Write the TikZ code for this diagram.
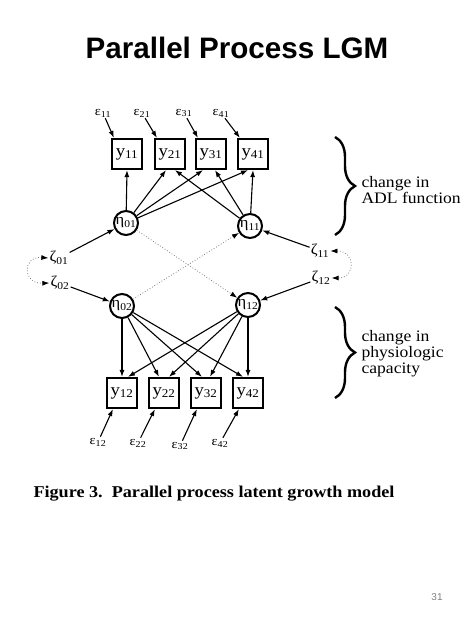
\documentclass[tikz,border=0pt]{standalone}
\usepackage{fontspec}
\setmainfont{Liberation Serif}[FakeStretch=1.1]
\setsansfont{Liberation Sans}
\usetikzlibrary{arrows.meta,decorations.pathreplacing}
\begin{document}
\begin{tikzpicture}[x=1pt,y=-1pt,
	obs/.style={draw,line width=2.2pt,minimum size=30pt,inner sep=0pt,font=\fontsize{17}{17}\selectfont},
	lat/.style={draw,circle,line width=2pt,minimum size=24pt,inner sep=0pt,font=\fontsize{15}{15}\selectfont},
	err/.style={inner sep=1pt,font=\fontsize{13}{13}\selectfont},
	dis/.style={inner sep=1pt,font=\fontsize{15}{15}\selectfont},
	arr/.style={-{Latex[length=7pt,width=5pt]},line width=1.1pt},
	dots/.style={dotted,gray,line width=0.8pt,-{Latex[length=7pt,width=5pt,black]}},
	brc/.style={decorate,decoration={brace,amplitude=20pt},line width=2.4pt},
	note/.style={anchor=west,align=left,font=\fontsize{16}{16}\selectfont}]
	\useasboundingbox (0,0) rectangle (474,622);
	%标题
	\node[anchor=base,font=\sffamily\bfseries\fontsize{29.6}{30}\selectfont] (title) at (237,58) {Parallel Process LGM};
	%观测变量
	\node[obs] (y11) at (127,154) {y\textsubscript{11}};
	\node[obs] (y21) at (170,154) {y\textsubscript{21}};
	\node[obs] (y31) at (211,154) {y\textsubscript{31}};
	\node[obs] (y41) at (253,154) {y\textsubscript{41}};
	\node[obs] (y12) at (122,393) {y\textsubscript{12}};
	\node[obs] (y22) at (164,393) {y\textsubscript{22}};
	\node[obs] (y32) at (206,393) {y\textsubscript{32}};
	\node[obs] (y42) at (248,393) {y\textsubscript{42}};
	%潜变量
	\node[lat] (e01) at (126,223) {η\textsubscript{01}};
	\node[lat] (e11) at (250,226) {η\textsubscript{11}};
	\node[lat] (e02) at (122,306) {η\textsubscript{02}};
	\node[lat] (e12) at (248,305) {η\textsubscript{12}};
	%误差
	\node[err] (d11) at (103,113) {ε\textsubscript{11}};
	\node[err] (d21) at (142,113) {ε\textsubscript{21}};
	\node[err] (d31) at (184,113) {ε\textsubscript{31}};
	\node[err] (d41) at (221,113) {ε\textsubscript{41}};
	\node[err] (d12) at (98,442) {ε\textsubscript{12}};
	\node[err] (d22) at (138,443) {ε\textsubscript{22}};
	\node[err] (d32) at (180,446) {ε\textsubscript{32}};
	\node[err] (d42) at (220,443) {ε\textsubscript{42}};
	\node[dis] (z01) at (59,258) {ζ\textsubscript{01}};
	\node[dis] (z02) at (60,283) {ζ\textsubscript{02}};
	\node[dis] (z11) at (320,251) {ζ\textsubscript{11}};
	\node[dis] (z12) at (321,278) {ζ\textsubscript{12}};
	%箭头
	\draw[arr] (d11) -- ([xshift=3pt]y11.north west);
	\draw[arr] (d21) -- ([xshift=3pt]y21.north west);
	\draw[arr] (d31) -- ([xshift=3pt]y31.north west);
	\draw[arr] (d41) -- ([xshift=3pt]y41.north west);
	\draw[arr] (d12) -- ([xshift=7pt]y12.south west);
	\draw[arr] (d22) -- ([xshift=7pt]y22.south west);
	\draw[arr] (d32) -- ([xshift=7pt]y32.south west);
	\draw[arr] (d42) -- ([xshift=7pt]y42.south west);
	\draw[arr] (e01) -- (y11.south);
	\draw[arr] (e01) -- ([xshift=-4pt]y21.south);
	\draw[arr] (e01) -- ([xshift=-8pt]y31.south);
	\draw[arr] (e01) -- ([xshift=-5pt]y41.south);
	\draw[arr] (e11) -- ([xshift=5pt]y21.south);
	\draw[arr] (e11) -- ([xshift=4pt]y31.south);
	\draw[arr] (e11) -- (y41.south);
	\draw[arr] (e02) -- (y12.north);
	\draw[arr] (e02) -- ([xshift=-5pt]y22.north);
	\draw[arr] (e02) -- ([xshift=-4pt]y32.north);
	\draw[arr] (e02) -- ([xshift=-5pt]y42.north);
	\draw[arr] (e12) -- ([xshift=6pt]y12.north);
	\draw[arr] (e12) -- ([xshift=5pt]y22.north);
	\draw[arr] (e12) -- ([xshift=4pt]y32.north);
	\draw[arr] (e12) -- (y42.north);
	\draw[arr] (z01) -- (e01);
	\draw[arr] (z02) -- (e02);
	\draw[arr] (z11) -- (e11);
	\draw[arr] (z12) -- (e12);
	\draw[dots] (e01) -- (e12);
	\draw[dots] (e02) -- (e11);
	\draw[dots,{Latex[length=7pt,width=5pt,black]}-{Latex[length=7pt,width=5pt,black]}] (z01.west) .. controls (22,256) and (22,284) .. (z02.west);
	\draw[dots,{Latex[length=7pt,width=5pt,black]}-{Latex[length=7pt,width=5pt,black]}] (z11.east) .. controls (356,251) and (356,278) .. (z12.east);
	%括号和说明
	\draw[brc] (335,137) -- (335,235);
	\draw[brc] (335,307) -- (335,398);
	\node[note] (adl) at (358,190) {change in\\ADL function};
	\node[note] (phy) at (358,354) {change in\\physiologic\\capacity};
	\node[anchor=base,font=\bfseries\fontsize{16.5}{17}\selectfont] (cap) at (214,497) {Figure 3.\ \ Parallel process latent growth model};
	\node[anchor=base,text=gray,font=\sffamily\fontsize{10}{10}\selectfont] (page) at (437,600) {31};
\end{tikzpicture}
\end{document}
